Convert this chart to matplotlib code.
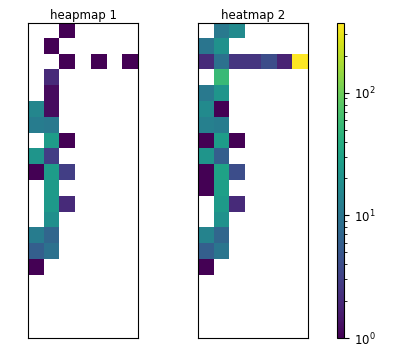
import numpy as np
import matplotlib
matplotlib.use("Agg")
import matplotlib.pyplot as plt
from matplotlib.colors import LogNorm

_ = None

# 20 rows x 7 columns, None = empty cell
heatmap1 = [
    [_, _, 1, _, _, _, _],
    [_, 1, _, _, _, _, _],
    [_, _, 1, _, 1, _, 1],
    [_, 2, _, _, _, _, _],
    [_, 1.2, _, _, _, _, _],
    [15, 1.2, _, _, _, _, _],
    [12, 11, _, _, _, _, _],
    [_, 26, 1, _, _, _, _],
    [22, 3, _, _, _, _, _],
    [1, 26, 3, _, _, _, _],
    [_, 25, _, _, _, _, _],
    [_, 24, 2, _, _, _, _],
    [_, 19, _, _, _, _, _],
    [12, 7, _, _, _, _, _],
    [6, 9, _, _, _, _, _],
    [1, _, _, _, _, _, _],
    [_, _, _, _, _, _, _],
    [_, _, _, _, _, _, _],
    [_, _, _, _, _, _, _],
    [_, _, _, _, _, _, _],
]

heatmap2 = [
    [_, 11, 17, _, _, _, _],
    [10, 20, _, _, _, _, _],
    [2, 9, 2.5, 2.5, 4, 1.8, 370],
    [_, 55, _, _, _, _, _],
    [11, 22, _, _, _, _, _],
    [17, 1, _, _, _, _, _],
    [13, 12, _, _, _, _, _],
    [1, 26, 1, _, _, _, _],
    [22, 6, _, _, _, _, _],
    [1, 30, 4, _, _, _, _],
    [1, 28, _, _, _, _, _],
    [_, 25, 2, _, _, _, _],
    [_, 20, _, _, _, _, _],
    [14, 7, _, _, _, _, _],
    [6, 10, _, _, _, _, _],
    [1, _, _, _, _, _, _],
    [_, _, _, _, _, _, _],
    [_, _, _, _, _, _, _],
    [_, _, _, _, _, _, _],
    [_, _, _, _, _, _, _],
]

titles = ["heapmap 1", "heatmap 2"]


def to_masked(grid):
    arr = np.array([[np.nan if v is None else v for v in row] for row in grid], dtype=float)
    return np.ma.masked_invalid(arr)


W, H = 404, 355
fig = plt.figure(figsize=(W / 100, H / 100), dpi=100)
fig.patch.set_facecolor("white")

norm = LogNorm(vmin=1, vmax=370)
axes_px = [(28, 23, 110, 315), (198, 23, 110, 315)]

im = None
for (x, y, w, h), grid, title in zip(axes_px, [heatmap1, heatmap2], titles):
    ax = fig.add_axes([x / W, (H - y - h) / H, w / W, h / H])
    im = ax.imshow(to_masked(grid), cmap="viridis", norm=norm,
                   aspect="auto", interpolation="nearest")
    ax.set_xticks([])
    ax.set_yticks([])
    ax.set_title(title, fontsize=8.5, pad=3)

cax = fig.add_axes([337 / W, (H - 338) / H, 7 / W, 315 / H])
cb = fig.colorbar(im, cax=cax)
cb.ax.tick_params(labelsize=8.5)

fig.savefig("out.png", dpi=100)
